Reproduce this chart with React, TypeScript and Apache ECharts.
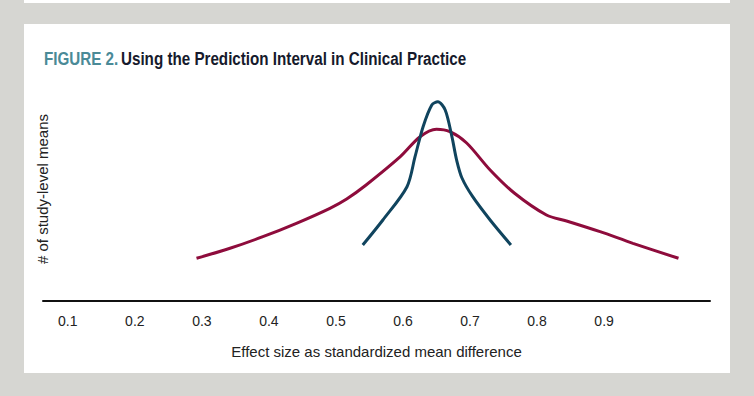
import React, { useEffect, useRef } from "react";
import * as echarts from "echarts";

const tickValues = [0.1, 0.2, 0.3, 0.4, 0.5, 0.6, 0.7, 0.8, 0.9];

const predictionX = [0.292, 0.342, 0.391, 0.441, 0.491, 0.516, 0.545, 0.596, 0.625, 0.65, 0.67, 0.695, 0.73, 0.766, 0.814, 0.844, 0.894, 0.943, 1.011];
const predictionY = [42.7, 52.7, 64.3, 77.7, 92.7, 102, 116, 144.3, 164, 171.7, 169.3, 158, 131, 108, 86, 80, 69.3, 57.7, 42.7];

const confidenceX = [0.54, 0.57, 0.606, 0.618, 0.63, 0.643, 0.652, 0.663, 0.673, 0.68, 0.688, 0.704, 0.73, 0.761];
const confidenceY = [56, 81, 114.3, 144.3, 174.3, 196, 199.3, 191, 164.3, 141, 123, 104.3, 81, 56];

const TFONT = '"Liberation Sans", Arial, sans-serif';

export default function App() {
  const ref = useRef<HTMLDivElement>(null);
  useEffect(() => {
    if (!ref.current) return;
    const chart = echarts.init(ref.current, undefined, { renderer: "svg" });
    chart.setOption({
      animation: false,
      backgroundColor: "#d6d6d2",
      grid: { left: 43, right: 44, top: 91, bottom: 95 },
      xAxis: {
        type: "value",
        min: 0.063,
        max: 1.058,
        axisLine: { show: true, lineStyle: { color: "#111", width: 2 } },
        axisTick: { show: false },
        splitLine: { show: false },
        axisLabel: {
          customValues: tickValues,
          formatter: (v: number) => v.toFixed(1),
          color: "#222",
          fontFamily: TFONT,
          fontSize: 14,
          margin: 13,
        },
        name: "Effect size as standardized mean difference",
        nameLocation: "middle",
        nameGap: 43,
        nameTextStyle: { color: "#222", fontFamily: TFONT, fontSize: 15 },
      },
      yAxis: { type: "value", min: 0, max: 210, show: false },
      graphic: [
        { type: "rect", z: -10, shape: { x: 24, y: 0, width: 706, height: 3 }, style: { fill: "#fff" } },
        { type: "rect", z: -10, shape: { x: 24, y: 24, width: 706, height: 349 }, style: { fill: "#fff" } },
        {
          type: "text",
          x: 44,
          y: 58,
          scaleX: 0.8,
          style: {
            text: "{a|FIGURE 2.} {b|Using the Prediction Interval in Clinical Practice}",
            verticalAlign: "middle",
            rich: {
              a: { fill: "#4a8a97", fontFamily: TFONT, fontWeight: "bold", fontSize: 19 },
              b: { fill: "#161a2c", fontFamily: TFONT, fontWeight: "bold", fontSize: 19 },
            },
          },
        },
        {
          type: "text",
          x: 42,
          y: 189,
          rotation: Math.PI / 2,
          style: {
            text: "# of study-level means",
            fill: "#222",
            fontFamily: TFONT,
            fontSize: 15,
            align: "center",
            verticalAlign: "middle",
          },
        },
      ],
      series: [
        {
          type: "line",
          data: predictionX.map((x, i) => [x, predictionY[i]]),
          smooth: 0.3,
          showSymbol: false,
          lineStyle: { color: "#8e0c3c", width: 3 },
        },
        {
          type: "line",
          data: confidenceX.map((x, i) => [x, confidenceY[i]]),
          smooth: 0.3,
          showSymbol: false,
          lineStyle: { color: "#10445e", width: 3 },
        },
      ],
    });
    return () => chart.dispose();
  }, []);
  return (
    <div style={{ position: "fixed", left: 0, top: 0, width: 754, height: 396 }}>
      <div ref={ref} style={{ width: 754, height: 396 }} />
    </div>
  );
}
